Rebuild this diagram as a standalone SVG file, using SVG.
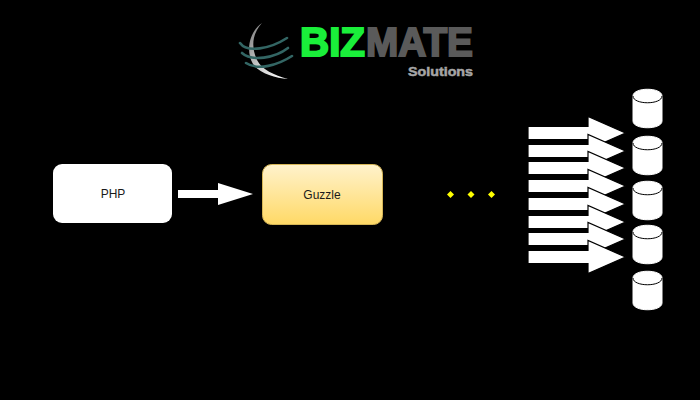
<svg xmlns="http://www.w3.org/2000/svg" width="700" height="400" viewBox="0 0 700 400">
<defs>
<linearGradient id="gold" x1="0" y1="0" x2="0" y2="1"><stop offset="0" stop-color="#fff2cc"/><stop offset="1" stop-color="#ffd966"/></linearGradient>
<linearGradient id="cres" x1="0" y1="0" x2="1" y2="1"><stop offset="0" stop-color="#777"/><stop offset="0.5" stop-color="#ccc"/><stop offset="1" stop-color="#fff"/></linearGradient>
<path id="big" d="M-60,-6.500H0V-16.500L37.500,0L0,16.500V6.500H-60Z"/>
<g id="cyl"><path d="M0,7C0,-2 29,-2 29,7V32C29,41 0,41 0,32Z" fill="#fff" stroke="#fff"/><path d="M0,7C0,16 29,16 29,7" fill="none" stroke="#000"/></g>
</defs>
<style>
.lbl{font-family:"Liberation Sans",Arial,sans-serif;font-size:12px;fill:#1a1a1a;text-anchor:middle}
.a{fill:#fff;stroke:#000;stroke-width:1.2}
.sw{fill:none;stroke:#336664;stroke-width:2.6;stroke-linecap:round}
.d{fill:#ff0}
.logo{font-family:"Liberation Sans",Arial,sans-serif;font-weight:700}
</style>
<rect width="700" height="400" fill="#000"/>
<g id="logo">
<path d="M262,23C250,31 245,50 253,64C260,74 275,78 288,79C274,75 262,70 257,60C251,47 252,34 262,23Z" fill="url(#cres)"/>
<path class="sw" d="M240,43C247,53 270,49 287,38"/>
<path class="sw" d="M242,53C252,62 275,58 288,48"/>
<path class="sw" d="M246,63C258,71 278,65 292,56"/>
<text class="logo" x="300" y="55.500" font-size="40" textLength="65" lengthAdjust="spacingAndGlyphs" fill="#1aef3a" stroke="#1aef3a" stroke-width="2">BIZ</text>
<text class="logo" x="366" y="55.500" font-size="40" textLength="107" lengthAdjust="spacingAndGlyphs" fill="#5a5a5a" stroke="#5a5a5a" stroke-width="2">MATE</text>
<text class="logo" x="408" y="75.500" font-size="13" textLength="65" lengthAdjust="spacingAndGlyphs" fill="#a6a6a6" stroke="#a6a6a6" stroke-width="0.5">Solutions</text>
</g>
<g id="connectors">
<path d="M178,190H218V183L253,194L218,205V198H178Z" fill="#fff"/>
<g id="fan">
<use href="#big" x="588" y="133" class="a"/>
<use href="#big" x="588" y="151" class="a"/>
<use href="#big" x="588" y="168" class="a"/>
<use href="#big" x="588" y="186" class="a"/>
<use href="#big" x="588" y="204" class="a"/>
<use href="#big" x="588" y="222" class="a"/>
<use href="#big" x="588" y="239" class="a"/>
<use href="#big" x="588" y="257" class="a"/>
</g>
</g>
<g id="php"><rect x="53" y="164" width="119" height="59" rx="9" fill="#fff"/><text class="lbl" x="113" y="198">PHP</text></g>
<g id="guzzle"><rect x="262.500" y="164.500" width="120" height="60" rx="9" fill="url(#gold)" stroke="#d6b656"/><text class="lbl" x="322" y="199">Guzzle</text></g>
<g id="dots">
<path class="d" d="M450.500,191L454,194.500L450.500,198L447,194.500Z"/>
<path class="d" d="M471,191L474.500,194.500L471,198L467.500,194.500Z"/>
<path class="d" d="M491.500,191L495,194.500L491.500,198L488,194.500Z"/>
</g>
<g id="db1"><use href="#cyl" x="633" y="89"/></g>
<g id="db2"><use href="#cyl" x="633" y="136"/></g>
<g id="db3"><use href="#cyl" x="633" y="181"/></g>
<g id="db4"><use href="#cyl" x="633" y="225"/></g>
<g id="db5"><use href="#cyl" x="633" y="271"/></g>
</svg>
